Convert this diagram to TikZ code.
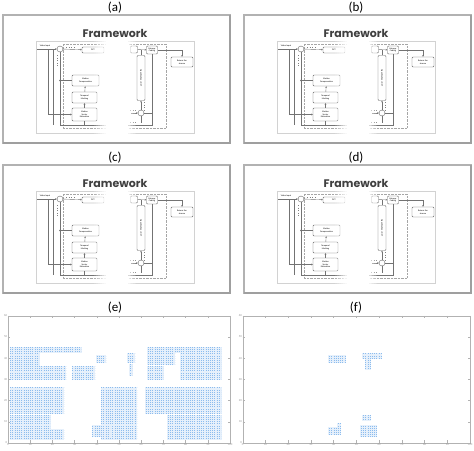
\documentclass[tikz,border=0pt]{standalone}
\usepackage{fontspec}
\setmainfont{Carlito}
\newfontfamily\titlefont{Poppins}
\usetikzlibrary{arrows.meta}

\definecolor{mvblue}{RGB}{140,188,238}

\tikzset{
  panellabel/.style={inner sep=0pt, font=\fontsize{13}{15}\selectfont},
  titletext/.style={inner sep=0pt, font=\titlefont\bfseries\fontsize{11}{13}\selectfont, text=black!75},
  panelframe/.style={draw=gray!60, line width=1.3pt},
  innerframe/.style={draw=gray!35, line width=0.5pt},
  dashbox/.style={draw=gray!70, line width=0.4pt, densely dotted},
  blk/.style={draw=black!60, rounded corners=1pt, line width=0.45pt, fill=white, inner sep=0pt, align=center, font=\fontsize{2.2}{2.6}\selectfont},
  sumnode/.style={draw=black!60, circle, minimum size=6pt, inner sep=0pt, line width=0.4pt},
  tinytext/.style={inner sep=0pt, align=left, font=\fontsize{2.2}{2.6}\selectfont},
  wire/.style={draw=black!55, line width=0.4pt},
  arr/.style={wire, -{Stealth[length=1.6pt,width=1.6pt]}},
  marks/.style={draw=black!50, line width=0.6pt, dotted},
  veil/.style={fill=white, draw=none},
  axisline/.style={draw=gray!60, line width=0.4pt},
  ticklbl/.style={inner sep=0.6pt, text=gray!80, font=\fontsize{3}{3.5}\selectfont},
  mvfield/.style={fill=mvblue!22, draw=none},
  mvdot/.style={draw=mvblue, line width=1pt, dash pattern=on 1pt off 1.22pt}
}

\newcommand{\framepanel}[3]{%
\begin{scope}[shift={#2}]
  \node[panellabel] (#1lbl) at (115,8) {(#3)};
  \draw[panelframe] (3,15) rectangle (230,143);
  \draw[draw=gray!75, line width=1.4pt] (230,15) -- (230,143) -- (3,143);
  \node[titletext] (#1title) at (115,33) {Framework};
  \draw[innerframe] (36,41) rectangle (194,133);
  \draw[dashbox] (63,44) rectangle (166,128);
  % left half
  \node[tinytext] (#1vin) at (45,45.5) {Video Input};
  \node[sumnode] (#1s1) at (60,49) {};
  \node[blk, minimum width=22pt, minimum height=6pt] (#1dct) at (93,50) {DCT};
  \node[blk, minimum width=27pt, minimum height=11pt] (#1mc) at (85.5,80.5) {Motion\\Compensation};
  \node[blk, minimum width=25pt, minimum height=11pt] (#1tm) at (84.5,97.5) {Temporal\\Masking};
  \node[blk, minimum width=25pt, minimum height=13pt] (#1mve) at (84.5,114.5) {Motion\\Vector\\Estimation};
  \coordinate (#1in) at (37,49);
  \coordinate (#1ja) at (48,49);
  \coordinate (#1jb) at (53,49);
  \coordinate (#1bl) at (60,125);
  \draw[arr] (#1in) -- (#1s1);
  \draw[arr] (#1s1) -- (#1dct);
  \draw[arr] (#1ja) |- (#1mve.west);
  \draw[wire] (#1jb) -- (#1jb |- #1bl);
  \draw[arr] (#1mve) -- (#1tm);
  \draw[arr] (#1tm) -- (#1mc);
  \draw[wire] (#1mc.west) -- (#1mc.west -| #1s1);
  \fill[black!60] (#1mc.west -| #1s1) circle (0.8pt);
  \draw[wire] (#1mve.south) -- (#1mve.south |- #1bl);
  \draw[marks] (57,55) -- (57,66);
  \draw[marks] (66,47) -- (75,47);
  % right half
  \node[blk, minimum width=7pt, minimum height=7pt] (#1lb) at (134,49.5) {};
  \node[blk, minimum width=11pt, minimum height=8pt] (#1ec) at (152,50) {Entropy\\Coding};
  \node[blk, minimum width=8pt, minimum height=45pt] (#1qd) at (141,78) {\rotatebox{-90}{Quantization + DCT}};
  \node[blk, minimum width=22pt, minimum height=10pt] (#1rs) at (182,62) {Return the\\stream};
  \node[sumnode] (#1s2) at (141,113) {};
  \coordinate (#1s2l) at (131,113);
  \coordinate (#1s2b) at (141,123);
  \draw[arr] (#1lb) -- (#1ec);
  \draw[wire] (#1qd.north) -- (#1qd.north |- #1lb);
  \draw[arr] (#1ec.east) -| (#1rs.north);
  \draw[wire] (#1ec.south) |- (#1bl) -- (#1s1.south);
  \draw[arr] (#1s2) -- (#1qd);
  \draw[arr] (#1s2l) -- (#1s2);
  \draw[wire] (#1s2) -- (#1s2b);
  \draw[wire] (#1s2) -- (#1s2 -| #1ec.south);
  \draw[marks] (144,102) -- (144,110);
  \draw[marks] (130,110) -- (136,110);
  \draw[marks] (130,122) -- (137,122);
  % faded middle
  \foreach \k in {1,...,6}{
    \fill[veil, fill opacity=\k/7] (92+2*\k,38) rectangle (94+2*\k,136);
    \fill[veil, fill opacity=\k/7] (138-1.7*\k,38) rectangle (136.3-1.7*\k,136);
  }
  \fill[veil] (106,38) rectangle (127.8,136);
\end{scope}}

\newcommand{\plotaxes}[1]{%
  \draw[axisline] (0,0) rectangle (100,60);
  \foreach \t in {0,10,...,100}{
    \draw[axisline] (\t,0) -- (\t,1.2);
    \draw[axisline] (\t,60) -- (\t,58.8);
    \node[ticklbl, below] (#1x\t) at (\t,0) {\t};
  }
  \foreach \t in {0,10,...,60}{
    \draw[axisline] (0,\t) -- (0.8,\t);
    \draw[axisline] (100,\t) -- (99.2,\t);
    \node[ticklbl, left] (#1y\t) at (0,\t) {\t};
  }}

\begin{document}
\begin{tikzpicture}[x=1pt, y=-1pt]
  \useasboundingbox (0,0) rectangle (474,450);
  \fill[white] (0,0) rectangle (474,450);

  \framepanel{a}{(0,0)}{a}
  \framepanel{b}{(241,0)}{b}
  \framepanel{c}{(0,150)}{c}
  \framepanel{d}{(241,150)}{d}

  \node[panellabel] (elbl) at (115,308) {(e)};
  \node[panellabel] (flbl) at (356,308) {(f)};

  % motion vectors (e)
  \begin{scope}[shift={(8,443)}, x=2.22pt, y=2.12pt]
    \foreach \xa/\xb/\ya/\yb in {1/14/30/45, 14/33/43/45, 14/26/30/36, 29/39/30/36,
        63/96/43/45, 63/75/37/42, 63/70/30/36, 78/96/30/42,
        1/25/14/26, 1/19/7/13, 1/25/2/6, 42/58/2/26, 62/96/14/26, 72/96/2/13,
        40/44/38/41, 54/57/38/42, 55/56/32/37, 38/46/3/8}{
      \fill[mvfield] (\xa-0.3,\ya-0.4) rectangle (\xb+0.3,\yb+0.4);
      \foreach \yy in {\ya,...,\yb}
        \draw[mvdot] (\xa,\yy) -- (\xb,\yy);
    }
    \plotaxes{e}
  \end{scope}

  % motion vectors (f)
  \begin{scope}[shift={(242.7,443)}, x=2.273pt, y=2.12pt]
    \foreach \xa/\xb/\ya/\yb in {38/45/38/41, 53/61/40/42, 54/56/35/39,
        53/56/11/13, 38/43/4/7, 42/43/8/9, 52/59/3/8}{
      \fill[mvfield] (\xa-0.3,\ya-0.4) rectangle (\xb+0.3,\yb+0.4);
      \foreach \yy in {\ya,...,\yb}
        \draw[mvdot] (\xa,\yy) -- (\xb,\yy);
    }
    \plotaxes{f}
  \end{scope}
\end{tikzpicture}
\end{document}
